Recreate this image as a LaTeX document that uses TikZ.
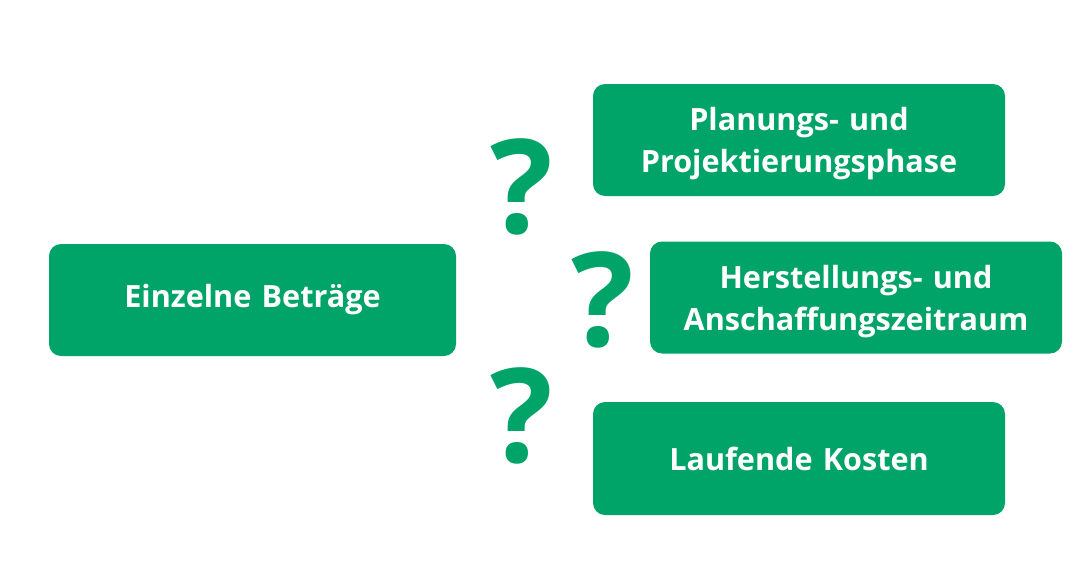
\documentclass[tikz,border=0pt]{standalone}
\usepackage{fontspec}
\setmainfont{Open Sans}
\definecolor{boxgreen}{HTML}{00A468}
\newcommand{\lowerstrut}{\rule{0pt}{31pt}}
\begin{document}
\begin{tikzpicture}[x=1pt,y=-1pt,
  greenbox/.style={fill=boxgreen,rounded corners=12pt,inner sep=0pt,
    text=white,align=center,font=\fontsize{30.6}{42}\selectfont\bfseries,
    text width=400pt},
  qmark/.style={text=boxgreen,inner sep=0pt,anchor=base,
    font=\fontsize{131}{131}\selectfont\bfseries}]
\useasboundingbox (0,0) rectangle (1084,576);
\fill[white] (0,0) rectangle (1084,576);
\node[greenbox,minimum width=407pt,minimum height=112pt] (left) at (252.5,300) {Einzelne Beträge};
\node[greenbox,minimum width=412pt,minimum height=112pt] (top) at (799,140) {\lowerstrut Planungs- und\\Projektierungsphase};
\node[greenbox,minimum width=412pt,minimum height=112pt] (mid) at (856,297.5) {\lowerstrut Herstellungs- und\\Anschaffungszeitraum};
\node[greenbox,minimum width=412pt,minimum height=113pt] (bot) at (799,458.5) {Laufende Kosten};
\node[qmark] (q1) at (521.5,233.5) {?};
\node[qmark] (q2) at (602.5,346.5) {?};
\node[qmark] (q3) at (521.5,462.5) {?};
\end{tikzpicture}
\end{document}
